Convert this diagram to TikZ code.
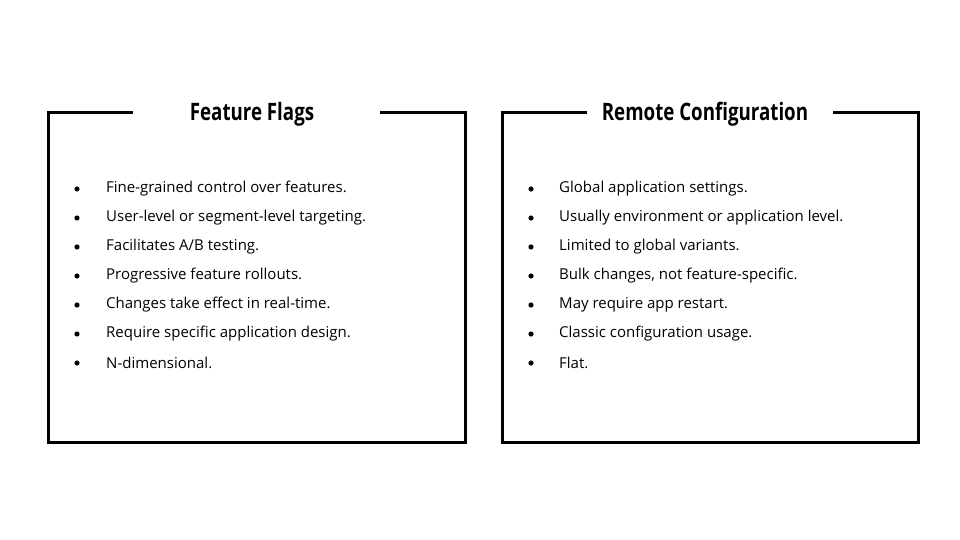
\documentclass[tikz,border=0pt]{standalone}
\usepackage{fontspec}
\setmainfont{Open Sans}
\newfontfamily\titlefont[FakeStretch=0.78]{Open Sans Bold}
\begin{document}
\begin{tikzpicture}[x=1pt,y=-1pt,
  frame/.style={line width=3pt},
  title/.style={font=\titlefont\fontsize{24}{28}\selectfont},
  item/.style={anchor=west,font=\fontsize{15}{18}\selectfont,inner sep=0pt}]
\useasboundingbox (0,0) rectangle (960,540);
\fill[white] (0,0) rectangle (960,540);
% left box
\draw[frame] (133,113) -- (48,113) -- (48,442) -- (465,442) -- (465,113) -- (380,113);
\node[title] (t1) at (252,114) {Feature Flags};
% right box
\draw[frame] (587,113) -- (502,113) -- (502,442) -- (918,442) -- (918,113) -- (833,113);
\node[title] (t2) at (705,114) {Remote Configuration};
\foreach \t [count=\i] in {Fine-grained control over features.,User-level or segment-level targeting.,Facilitates A/B testing.,Progressive feature rollouts.,Changes take effect in real-time.,Require specific application design.,N-dimensional.}{
  \node[item] (l\i) at (106,160+29*\i) {\t};
  \fill (77,160+29*\i) circle (2.6);
}
\foreach \t [count=\i] in {Global application settings.,Usually environment or application level.,Limited to global variants.,{Bulk changes, not feature-specific.},May require app restart.,Classic configuration usage.,Flat.}{
  \node[item] (r\i) at (559,160+29*\i) {\t};
  \fill (531,160+29*\i) circle (2.6);
}
\end{tikzpicture}
\end{document}
